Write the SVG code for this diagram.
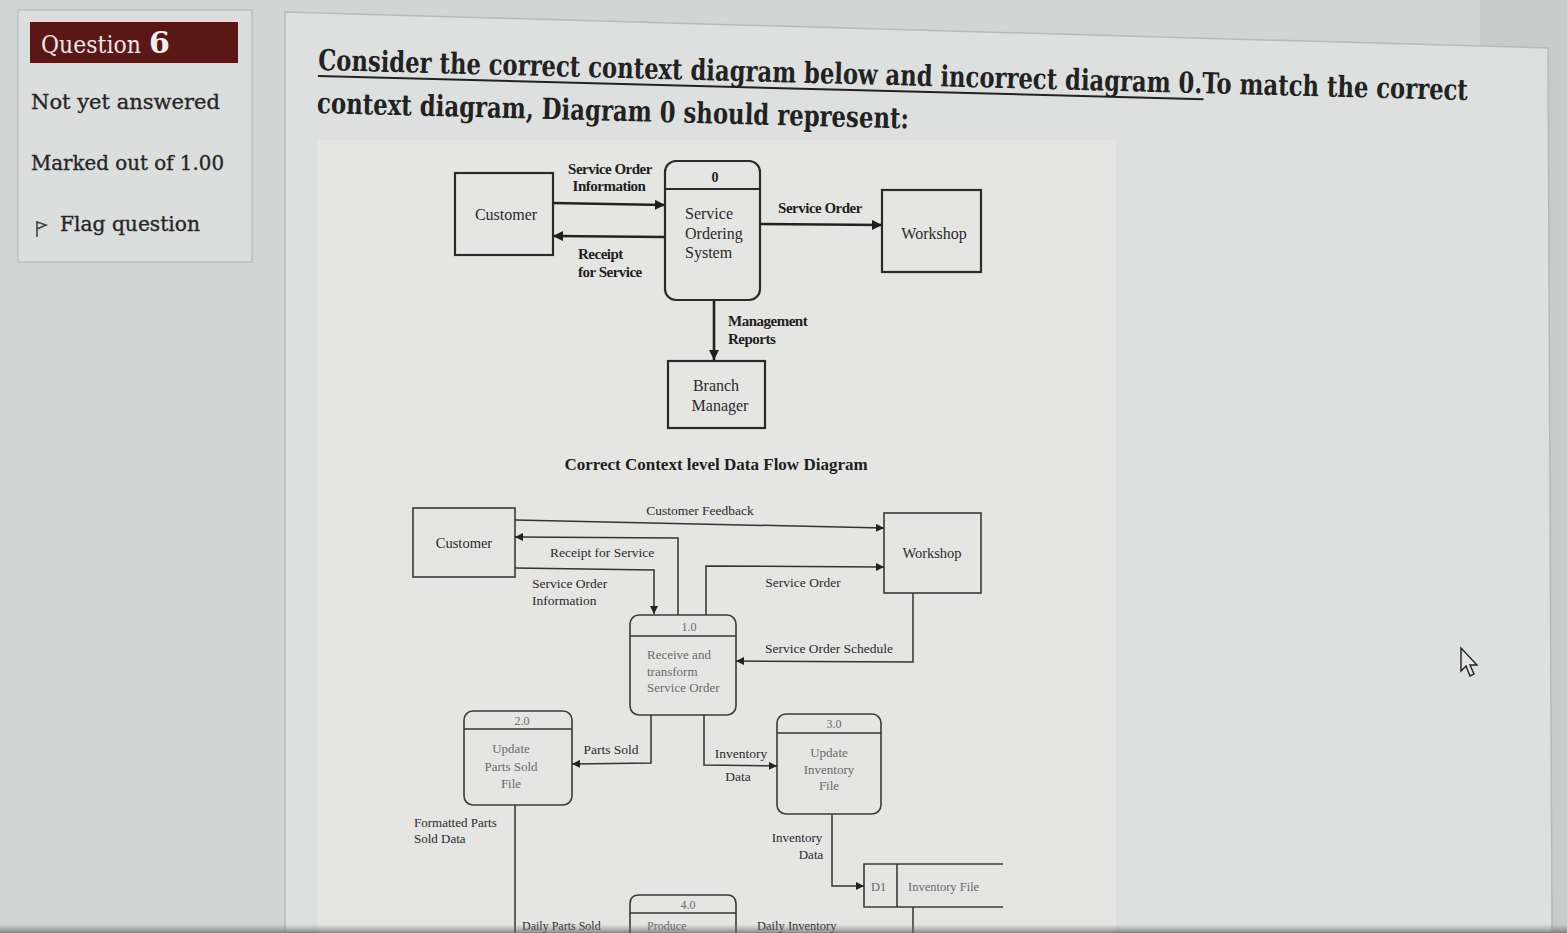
<svg xmlns="http://www.w3.org/2000/svg" width="1567" height="933" viewBox="0 0 1567 933">
<defs>
<style>
.bx{fill:none;stroke:#2b2b2b;stroke-width:2.2}
.bx2{fill:none;stroke:#3a3a3a;stroke-width:1.6}
.ln{fill:none;stroke:#222;stroke-width:2.6}
.ln2{fill:none;stroke:#333;stroke-width:1.5}
.t{font-family:"Liberation Serif","Times New Roman",serif;fill:#2a2a2a}
.tb{font-family:"Liberation Serif","Times New Roman",serif;fill:#1e1e1e;font-weight:bold}
.tg{font-family:"Liberation Serif","Times New Roman",serif;fill:#6a6a6a}
.ui{font-family:"DejaVu Serif","Liberation Serif",serif;fill:#2e2e2e}
</style>
<linearGradient id="bezel" x1="0" y1="0" x2="0" y2="1">
<stop offset="0" stop-color="#8a8a8a" stop-opacity="0"/>
<stop offset="1" stop-color="#5a5a5a" stop-opacity="0.7"/>
</linearGradient>
<marker id="ah" viewBox="0 0 10 10" refX="10" refY="5" markerWidth="10" markerHeight="10" markerUnits="userSpaceOnUse" orient="auto"><path d="M0,0 L10,5 L0,10 z" fill="#1e1e1e"/></marker>
<marker id="ah2" viewBox="0 0 10 10" refX="10" refY="5" markerWidth="8" markerHeight="8" markerUnits="userSpaceOnUse" orient="auto"><path d="M0,0 L10,5 L0,10 z" fill="#222"/></marker>
</defs>

<!-- page background -->
<rect x="0" y="0" width="1567" height="933" fill="#d3d4d4"/>
<rect x="1480" y="0" width="87" height="933" fill="#c9caca"/>

<!-- left info panel -->
<g id="info-panel">
<rect x="18" y="10" width="234" height="252" fill="#dcdddd" stroke="#bfc0c0" stroke-width="1.5"/>
<rect x="30" y="22" width="208" height="41" fill="#5b1616"/>
<text class="ui" x="41" y="53" font-size="24" style="fill:#efe6e6" textLength="100" lengthAdjust="spacingAndGlyphs">Question</text>
<text class="ui" x="149" y="53" font-size="30" font-weight="bold" style="fill:#f4eeee">6</text>
<text class="ui" x="31" y="109" font-size="21" style="fill:#262626;stroke:#262626;stroke-width:0.35" textLength="189" lengthAdjust="spacingAndGlyphs">Not yet answered</text>
<text class="ui" x="31" y="170" font-size="21" style="fill:#262626;stroke:#262626;stroke-width:0.35" textLength="193" lengthAdjust="spacingAndGlyphs">Marked out of 1.00</text>
<path d="M37,221 L37,237 M37,222 L46,225 L37,229" fill="none" stroke="#444" stroke-width="1.6"/>
<text class="ui" x="60" y="231" font-size="21" style="fill:#262626;stroke:#262626;stroke-width:0.35" textLength="140" lengthAdjust="spacingAndGlyphs">Flag question</text>
</g>

<!-- main panel -->
<polygon points="285,12 1548,48 1552,933 285,933" fill="#dedfdf" stroke="#b8b9b9" stroke-width="1.5"/>

<!-- question text -->
<g id="question-text" transform="rotate(1.5 318 70)">
<text class="ui" x="318" y="70" font-size="29" font-weight="bold" style="fill:#222" textLength="1150" lengthAdjust="spacingAndGlyphs">Consider the correct context diagram below and incorrect diagram 0.To match the correct</text>
<line x1="318" y1="76" x2="1204" y2="76" stroke="#222" stroke-width="2"/>
<text class="ui" x="318" y="113" font-size="29" font-weight="bold" style="fill:#222" textLength="592" lengthAdjust="spacingAndGlyphs">context diagram, Diagram 0 should represent:</text>
</g>

<!-- diagram image area -->
<rect x="318" y="140" width="798" height="793" fill="#e5e5e4"/>

<!-- ===== Top: correct context diagram ===== -->
<g id="ctx-customer">
<rect class="bx" x="455" y="173" width="98" height="82"/>
<text class="t" x="506" y="220" font-size="16" text-anchor="middle">Customer</text>
</g>
<g id="ctx-process-0">
<rect class="bx" x="665" y="161" width="95" height="139" rx="11" stroke-width="2.6"/>
<line x1="665" y1="189" x2="760" y2="189" stroke="#2b2b2b" stroke-width="2.2"/>
<text class="tb" x="715" y="182" font-size="14" text-anchor="middle">0</text>
<text class="t" x="685" y="219" font-size="16">Service</text>
<text class="t" x="685" y="239" font-size="16">Ordering</text>
<text class="t" x="685" y="258" font-size="16">System</text>
</g>
<g id="ctx-workshop">
<rect class="bx" x="882" y="190" width="99" height="82"/>
<text class="t" x="934" y="239" font-size="16" text-anchor="middle">Workshop</text>
</g>
<g id="ctx-branch-manager">
<rect class="bx" x="668" y="361" width="97" height="67"/>
<text class="t" x="716" y="391" font-size="16" text-anchor="middle">Branch</text>
<text class="t" x="720" y="411" font-size="16" text-anchor="middle">Manager</text>
</g>
<g id="ctx-connectors">
<path class="ln" d="M553,203 L665,205" marker-end="url(#ah)"/>
<path class="ln" d="M665,237 L553,236" marker-end="url(#ah)"/>
<path class="ln" d="M760,224 L882,225" marker-end="url(#ah)"/>
<path class="ln" d="M714,300 L714,360" marker-end="url(#ah)"/>
<text class="tb" x="610" y="174" font-size="15" text-anchor="middle" letter-spacing="-0.5">Service Order</text>
<text class="tb" x="609" y="191" font-size="15" text-anchor="middle" letter-spacing="-0.5">Information</text>
<text class="tb" x="578" y="259" font-size="15" letter-spacing="-0.5">Receipt</text>
<text class="tb" x="578" y="277" font-size="15" letter-spacing="-0.5">for Service</text>
<text class="tb" x="820" y="213" font-size="15" text-anchor="middle" letter-spacing="-0.5">Service Order</text>
<text class="tb" x="728" y="326" font-size="15" letter-spacing="-0.5">Management</text>
<text class="tb" x="728" y="344" font-size="15" letter-spacing="-0.5">Reports</text>
</g>
<text class="tb" x="716" y="470" font-size="17" text-anchor="middle">Correct Context level Data Flow Diagram</text>

<!-- ===== Bottom: incorrect diagram 0 ===== -->
<g id="d0-customer">
<rect class="bx2" x="413" y="508" width="102" height="69" stroke-width="2"/>
<text class="t" x="464" y="548" font-size="14.5" text-anchor="middle">Customer</text>
</g>
<g id="d0-workshop">
<rect class="bx2" x="884" y="513" width="97" height="80" stroke-width="2"/>
<text class="t" x="932" y="558" font-size="14.5" text-anchor="middle">Workshop</text>
</g>
<g id="d0-process-1">
<rect class="bx2" x="630" y="615" width="106" height="100" rx="9" stroke-width="2"/>
<line x1="630" y1="636" x2="736" y2="636" stroke="#333" stroke-width="1.6"/>
<text class="tg" x="689" y="631" font-size="12" text-anchor="middle">1.0</text>
<text class="tg" x="647" y="659" font-size="13">Receive and</text>
<text class="tg" x="647" y="676" font-size="13">transform</text>
<text class="tg" x="647" y="692" font-size="13">Service Order</text>
</g>
<g id="d0-process-2">
<rect class="bx2" x="464" y="711" width="108" height="94" rx="9" stroke-width="2"/>
<line x1="464" y1="729" x2="572" y2="729" stroke="#333" stroke-width="1.6"/>
<text class="tg" x="522" y="725" font-size="12" text-anchor="middle">2.0</text>
<text class="tg" x="511" y="753" font-size="13" text-anchor="middle">Update</text>
<text class="tg" x="511" y="771" font-size="13" text-anchor="middle">Parts Sold</text>
<text class="tg" x="511" y="788" font-size="13" text-anchor="middle">File</text>
</g>
<g id="d0-process-3">
<rect class="bx2" x="777" y="714" width="104" height="100" rx="9" stroke-width="2"/>
<line x1="777" y1="733" x2="881" y2="733" stroke="#333" stroke-width="1.6"/>
<text class="tg" x="834" y="728" font-size="12" text-anchor="middle">3.0</text>
<text class="tg" x="829" y="757" font-size="13" text-anchor="middle">Update</text>
<text class="tg" x="829" y="774" font-size="13" text-anchor="middle">Inventory</text>
<text class="tg" x="829" y="790" font-size="13" text-anchor="middle">File</text>
</g>
<g id="d0-process-4">
<path class="bx2" d="M630,940 L630,904 Q630,895 639,895 L727,895 Q736,895 736,904 L736,940" stroke-width="2"/>
<line x1="630" y1="913" x2="736" y2="913" stroke="#333" stroke-width="1.6"/>
<text class="tg" x="688" y="909" font-size="12" text-anchor="middle">4.0</text>
<text class="tg" x="647" y="930" font-size="12">Produce</text>
</g>
<g id="d0-store-d1">
<path class="bx2" d="M1003,864 L864,864 L864,907 L1003,907 M897,864 L897,907" stroke-width="1.6"/>
<text class="tg" x="871" y="891" font-size="12.5">D1</text>
<text class="tg" x="908" y="891" font-size="12.5">Inventory File</text>
</g>
<g id="d0-connectors">
<path class="ln2" d="M515,520 L884,528" marker-end="url(#ah2)"/>
<path class="ln2" d="M678,615 L678,538 L515,537" marker-end="url(#ah2)"/>
<path class="ln2" d="M515,568 L654,570 L654,614" marker-end="url(#ah2)"/>
<path class="ln2" d="M706,615 L706,566 L884,567" marker-end="url(#ah2)"/>
<path class="ln2" d="M913,593 L913,662 L736,661" marker-end="url(#ah2)"/>
<path class="ln2" d="M651,715 L651,763 L572,764" marker-end="url(#ah2)"/>
<path class="ln2" d="M704,715 L704,765 L777,766" marker-end="url(#ah2)"/>
<path class="ln2" d="M515,805 L515,935"/>
<path class="ln2" d="M832,814 L832,886 L864,886" marker-end="url(#ah2)"/>
<path class="ln2" d="M913,907 L913,935"/>
<text class="t" x="700" y="515" font-size="13.5" text-anchor="middle">Customer Feedback</text>
<text class="t" x="550" y="557" font-size="13.5">Receipt for Service</text>
<text class="t" x="532" y="588" font-size="13.5">Service Order</text>
<text class="t" x="532" y="605" font-size="13.5">Information</text>
<text class="t" x="803" y="587" font-size="13.5" text-anchor="middle">Service Order</text>
<text class="t" x="829" y="653" font-size="13.5" text-anchor="middle">Service Order Schedule</text>
<text class="t" x="611" y="754" font-size="13.5" text-anchor="middle">Parts Sold</text>
<text class="t" x="741" y="758" font-size="13.5" text-anchor="middle">Inventory</text>
<text class="t" x="738" y="781" font-size="13.5" text-anchor="middle">Data</text>
<text class="t" x="414" y="827" font-size="13">Formatted Parts</text>
<text class="t" x="414" y="843" font-size="13">Sold Data</text>
<text class="t" x="797" y="842" font-size="13" text-anchor="middle">Inventory</text>
<text class="t" x="811" y="859" font-size="13" text-anchor="middle">Data</text>
<text class="t" x="522" y="930" font-size="12">Daily Parts Sold</text>
<text class="t" x="757" y="930" font-size="12.5">Daily Inventory</text>
</g>

<!-- screen bottom shading -->
<rect x="0" y="924" width="1567" height="9" fill="url(#bezel)"/>

<!-- mouse cursor -->
<path d="M1461,648 L1461,671 L1466,666 L1470,676 L1474,674 L1470,665 L1477,665 Z" fill="#e4e4e4" stroke="#222" stroke-width="1.4"/>
</svg>
